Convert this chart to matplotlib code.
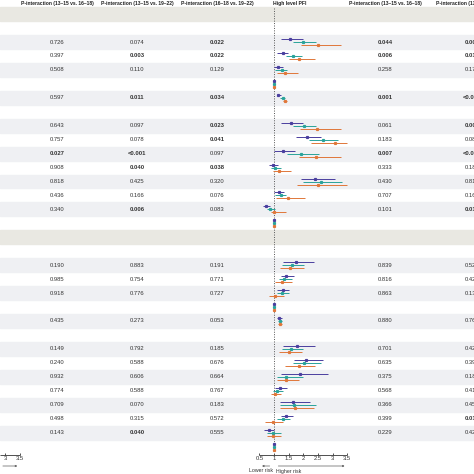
import matplotlib.pyplot as plt

plt.rcParams["font.family"] = ["Liberation Sans", "DejaVu Sans"]

# p-interaction columns, upper panel then lower panel ("" = no value)
col1 = ["0.726", "0.397", "0.508", "", "0.597", "", "0.643", "0.757", "0.027", "0.908", "0.818", "0.436", "0.340", "",
        "0.190", "0.985", "0.918", "", "0.435", "", "0.149", "0.240", "0.932", "0.774", "0.709", "0.498", "0.143", ""]
col2 = ["0.074", "0.003", "0.110", "", "0.011", "", "0.097", "0.078", "<0.001", "0.040", "0.425", "0.166", "0.006", "",
        "0.883", "0.754", "0.776", "", "0.273", "", "0.792", "0.588", "0.606", "0.588", "0.070", "0.315", "0.040", ""]
col3 = ["0.022", "0.022", "0.129", "", "0.034", "", "0.023", "0.041", "0.097", "0.038", "0.320", "0.076", "0.083", "",
        "0.191", "0.771", "0.727", "", "0.053", "", "0.185", "0.676", "0.664", "0.767", "0.183", "0.572", "0.555", ""]
col4 = ["0.044", "0.006", "0.258", "", "0.001", "", "0.061", "0.183", "0.007", "0.333", "0.430", "0.707", "0.101", "",
        "0.839", "0.816", "0.863", "", "0.880", "", "0.701", "0.635", "0.375", "0.568", "0.366", "0.399", "0.229", ""]
col5 = ["0.005", "0.010", "0.174", "", "<0.001", "", "0.003", "0.086", "<0.001", "0.184", "0.818", "0.164", "0.010", "",
        "0.522", "0.428", "0.136", "", "0.764", "", "0.428", "0.390", "0.185", "0.411", "0.452", "0.012", "0.428", ""]

# hazard ratios (est, lo, hi) for the three groups; None = reference row
purple = [(1.55, 1.23, 1.98), (1.30, 1.11, 1.49), (1.14, 1.0, 1.32), None, (1.15, 1.09, 1.23), "blank",
          (1.57, 1.24, 1.98), (2.11, 1.75, 2.59), (1.30, 1.0, 1.73), (0.98, 0.84, 1.14), (2.41, 1.91, 3.07),
          (1.16, 1.0, 1.34), (0.73, 0.61, 0.86), None,
          (1.75, 1.30, 2.36), (1.41, 1.23, 1.68), (1.32, 1.11, 1.52), None, (1.18, 1.11, 1.27), "blank",
          (1.77, 1.32, 2.41), (2.09, 1.68, 2.66), (1.89, 1.25, 2.86), (1.20, 1.02, 1.43), (1.64, 1.20, 2.23),
          (1.41, 1.23, 1.66), (0.82, 0.66, 1.0), None]
teal = [(2.0, 1.66, 2.43), (1.64, 1.41, 1.95), (1.26, 1.05, 1.45), None, (1.30, 1.20, 1.38), "blank",
        (2.02, 1.64, 2.43), (2.66, 2.20, 3.20), (1.91, 1.43, 2.55), (1.05, 0.89, 1.25), (2.59, 2.0, 3.32),
        (1.23, 1.02, 1.41), (0.86, 0.75, 1.05), None,
        (1.61, 1.27, 2.02), (1.34, 1.16, 1.61), (1.27, 1.09, 1.50), None, (1.20, 1.14, 1.27), "blank",
        (1.59, 1.27, 2.0), (2.02, 1.66, 2.59), (1.41, 1.09, 2.0), (1.09, 0.95, 1.32), (1.68, 1.20, 2.45),
        (1.32, 1.11, 1.55), (0.95, 0.75, 1.25), None]
orange = [(2.51, 1.91, 3.30), (1.85, 1.50, 2.41), (1.38, 1.11, 1.81), None, (1.38, 1.30, 1.45), "blank",
          (2.48, 1.89, 3.27), (3.08, 2.25, 3.50), (2.45, 1.86, 3.27), (1.18, 0.95, 1.57), (2.51, 1.80, 3.48),
          (1.48, 1.07, 2.05), (1.0, 0.89, 1.41), None,
          (1.55, 1.20, 2.02), (1.27, 1.05, 1.61), (1.05, 0.84, 1.34), None, (1.20, 1.14, 1.29), "blank",
          (1.52, 1.18, 1.95), (1.84, 1.36, 2.39), (1.41, 1.09, 1.84), (1.02, 0.89, 1.25), (1.70, 1.20, 2.36),
          (0.98, 0.70, 1.32), (0.98, 0.75, 1.23), None]

ticks = [0.5, 1, 1.5, 2, 2.5, 3, 3.5]
headers = ["P-interaction (13\u201315 vs. 16\u201318)", "P-interaction (13\u201315 vs. 19\u201322)",
           "P-interaction (16\u201318 vs. 19\u201322)", "P-interaction (13\u201315 vs. 16\u201318)",
           "P-interaction (13\u201315 vs. 19\u201322)"]
col_x = [57, 137, 217, 385, 472]
colors = ["#4a3f9f", "#2aa39a", "#e0773a"]

W = 474
fig = plt.figure(figsize=(4.74, 4.74), dpi=100)
ax = fig.add_axes([0, 0, 1, 1])
ax.set_xlim(0, W)
ax.set_ylim(W, 0)
ax.axis("off")

step = 13.95
def row_y(i):
    # lower panel sits two rows further down (section header + blank)
    return 42 + step * (i if i < 14 else i + 2)

# backgrounds
for y in (14, 42 + 14 * step):
    ax.axhspan(y - step / 2, y + step / 2, color="#e9e8e2", zorder=0)
for i in range(len(col1)):
    if i % 2 == 0:
        y = row_y(i)
        ax.axhspan(y - step / 2, y + step / 2, color="#eff0f3", zorder=0)

for h, x in zip(headers, col_x):
    ax.text(x, 3, h, ha="center", va="center", fontsize=3.6, fontweight="bold", color="#222")
ax.text(273, 3, "High level PFI", ha="left", va="center", fontsize=3.6, fontweight="bold", color="#222")

for col, x in zip([col1, col2, col3, col4, col5], col_x):
    for i, v in enumerate(col):
        if not v:
            continue
        bold = v.startswith("<") or float(v) < 0.05
        ax.text(x, row_y(i), v, ha="center", va="center", fontsize=4.2,
                fontweight="bold" if bold else "normal", color="#333")

# forest panel with HR scale (29.3 px per unit, HR 1 at x=274)
px = 29.3
left, right = 245, 362
fx = fig.add_axes([left / W, 0, (right - left) / W, 1])
fx.set_xlim(1 - (274 - left) / px, 1 + (right - 274) / px)
fx.set_ylim(W, 0)
fx.axis("off")
fx.vlines(1, 8, 452, colors="#555", linestyles=(0, (1, 1.5)), lw=0.7)
for i in range(len(purple)):
    y = row_y(i)
    for k, (series, c) in enumerate(zip([purple, teal, orange], colors)):
        d = series[i]
        yy = y - 3 + 3 * k
        if d == "blank":
            continue
        if d is None:
            fx.plot(1, yy, "s", ms=1.3, color=c)
            continue
        est, lo, hi = d
        fx.hlines(yy, lo, hi, colors=c, lw=0.7)
        fx.plot(est, yy, "s", ms=1.3, color=c)

ay = 455
fx.hlines(ay, ticks[0], ticks[-1], colors="#333", lw=0.6)
for t in ticks:
    fx.vlines(t, ay - 2, ay, colors="#333", lw=0.6)
    fx.text(t, ay + 4, f"{t:g}", ha="center", va="center", fontsize=4.2, color="#333")
fx.annotate("", xy=(0.5, 466), xytext=(0.95, 466),
            arrowprops=dict(arrowstyle="->", lw=0.4, color="#333", mutation_scale=3))
fx.annotate("", xy=(3.5, 466), xytext=(1.05, 466),
            arrowprops=dict(arrowstyle="->", lw=0.4, color="#333", mutation_scale=3))
fx.text(0.96, 471, "Lower risk", ha="right", va="center", fontsize=3.8, color="#333")
fx.text(1.06, 471, "Higher risk", ha="left", va="center", fontsize=3.8, color="#333")

# clipped axis of the neighbouring panel on the left edge
lx = fig.add_axes([0, 0, 30 / W, 1])
lx.set_xlim(3.5 - 20 / px, 3.5 + 10 / px)
lx.set_ylim(W, 0)
lx.axis("off")
lx.hlines(ay, 3.5 - 20 / px, 3.5, colors="#333", lw=0.6)
for t in ticks[-2:]:
    lx.vlines(t, ay - 2, ay, colors="#333", lw=0.6)
    lx.text(t, ay + 4, f"{t:g}", ha="center", va="center", fontsize=4.2, color="#333")
lx.annotate("", xy=(3.5, 466), xytext=(3.5 - 20 / px, 466),
            arrowprops=dict(arrowstyle="->", lw=0.4, color="#333", mutation_scale=3))

fig.savefig("out.png", dpi=100)
